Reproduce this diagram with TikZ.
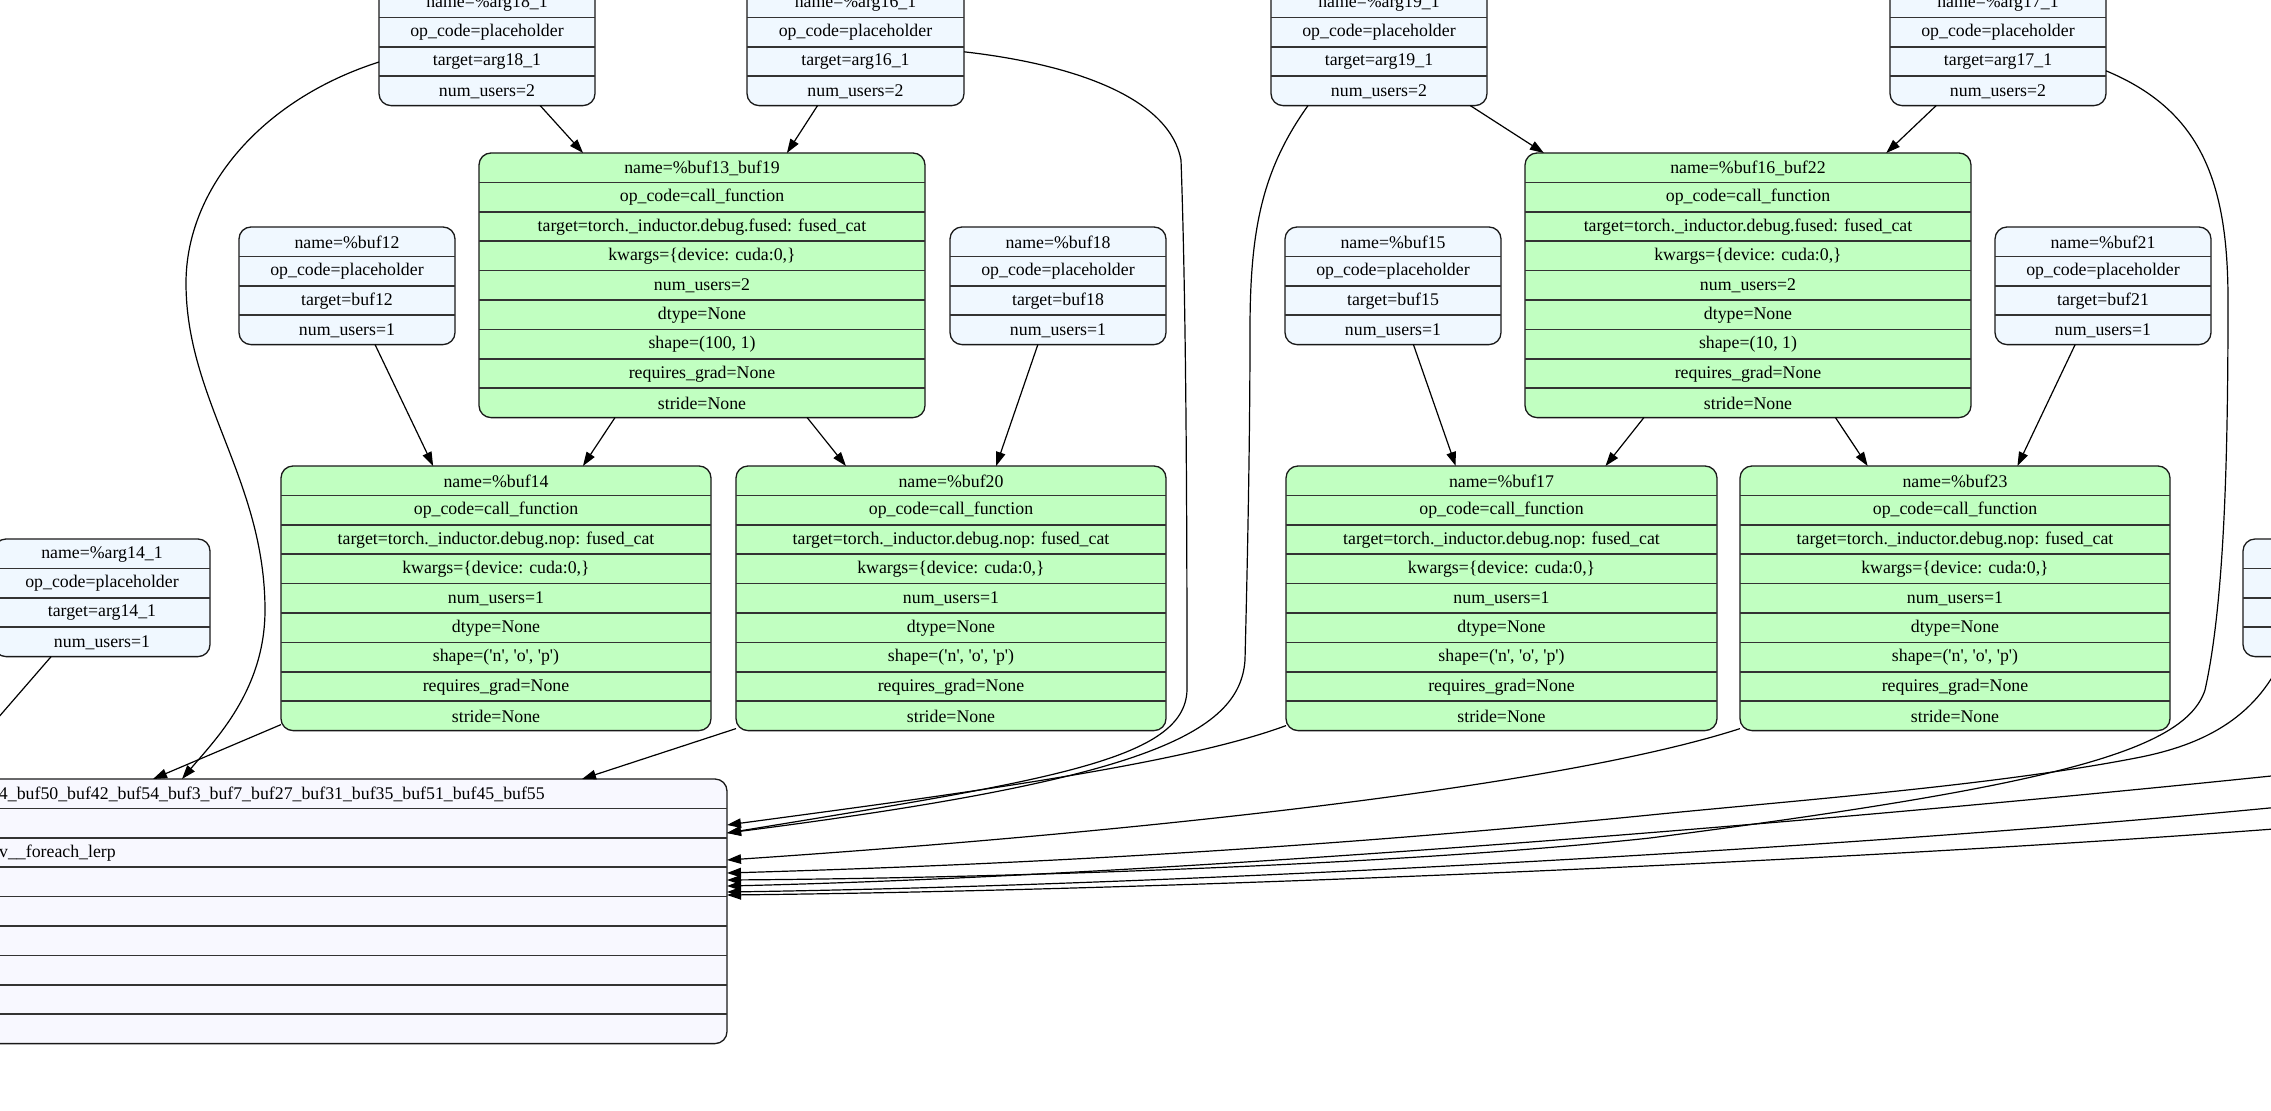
\documentclass[tikz,border=0pt]{standalone}
\usepackage{fontspec}
\setmainfont{Liberation Serif}
\usetikzlibrary{calc,arrows.meta}
\definecolor{phfill}{HTML}{F0F8FF}
\definecolor{fnfill}{HTML}{C1FFC1}
\definecolor{bgfill}{HTML}{F8F8FF}
\newcommand\sq{\textquotesingle}
\newcommand\mkrec[6]{%
  \node[#2, minimum width=#5pt, minimum height=#6*29.4pt, anchor=north west] (#1) at (#3,#4) {};
  \foreach \k in {1,...,#6} {
    \coordinate (#1-\k) at ($(#1.north west)+(#5/2,\k*29.4-14.2)$);
  }
  \foreach \k in {2,...,#6} {
    \draw[rowline] ($(#1.north west)+(0,\k*29.4-29.4)$) -- ++(#5,0);
  }
}
\newcommand\mkrows[2]{%
  \foreach \rowtxt [count=\k] in {#2} {
    \node[rowtext] (#1-t\k) at (#1-\k) {\rowtxt};
  }
}
\tikzset{
  rec/.style={draw=black!90, line width=1.3pt, rounded corners=12pt, inner sep=0pt, outer sep=0pt},
  ph/.style={rec, fill=phfill},
  fn/.style={rec, fill=fnfill},
  bg/.style={rec, fill=bgfill},
  rowtext/.style={inner sep=0pt, font=\fontsize{17.8}{20}\selectfont},
  rowline/.style={draw=black!80, line width=1.6pt},
  edge/.style={draw=black, line width=1.2pt, -{Triangle[length=14pt, width=9.5pt]}},
}
\begin{document}
\begin{tikzpicture}[x=1pt, y=-1pt]
\useasboundingbox (0,0) rectangle (2271,1111);
\fill[white] (0,0) rectangle (2271,1111);
\clip (0,0) rectangle (2271,1111);

% top placeholders
\mkrec{arg18}{ph}{379}{-12}{216}{4}
\mkrows{arg18}{name=\%arg18\_1, op\_code=placeholder, target=arg18\_1, num\_users=2}
\mkrec{arg16}{ph}{747}{-12}{217}{4}
\mkrows{arg16}{name=\%arg16\_1, op\_code=placeholder, target=arg16\_1, num\_users=2}
\mkrec{arg19}{ph}{1271}{-12}{216}{4}
\mkrows{arg19}{name=\%arg19\_1, op\_code=placeholder, target=arg19\_1, num\_users=2}
\mkrec{arg17}{ph}{1890}{-12}{216}{4}
\mkrows{arg17}{name=\%arg17\_1, op\_code=placeholder, target=arg17\_1, num\_users=2}

% fused nodes
\mkrec{b1319}{fn}{479}{153}{446}{9}
\mkrows{b1319}{name=\%buf13\_buf19, op\_code=call\_function, target=torch.\_inductor.debug.fused: fused\_cat, {kwargs=\{device: cuda:0,\}}, num\_users=2, dtype=None, {shape=(100, 1)}, requires\_grad=None, stride=None}
\mkrec{b1622}{fn}{1525}{153}{446}{9}
\mkrows{b1622}{name=\%buf16\_buf22, op\_code=call\_function, target=torch.\_inductor.debug.fused: fused\_cat, {kwargs=\{device: cuda:0,\}}, num\_users=2, dtype=None, {shape=(10, 1)}, requires\_grad=None, stride=None}

% buf placeholders
\mkrec{buf12}{ph}{239}{227}{216}{4}
\mkrows{buf12}{name=\%buf12, op\_code=placeholder, target=buf12, num\_users=1}
\mkrec{buf18}{ph}{950}{227}{216}{4}
\mkrows{buf18}{name=\%buf18, op\_code=placeholder, target=buf18, num\_users=1}
\mkrec{buf15}{ph}{1285}{227}{216}{4}
\mkrows{buf15}{name=\%buf15, op\_code=placeholder, target=buf15, num\_users=1}
\mkrec{buf21}{ph}{1995}{227}{216}{4}
\mkrows{buf21}{name=\%buf21, op\_code=placeholder, target=buf21, num\_users=1}

% nop nodes
\mkrec{buf14}{fn}{281}{466}{430}{9}
\mkrows{buf14}{name=\%buf14, op\_code=call\_function, target=torch.\_inductor.debug.nop: fused\_cat, {kwargs=\{device: cuda:0,\}}, num\_users=1, dtype=None, {shape=(\sq n\sq, \sq o\sq, \sq p\sq)}, requires\_grad=None, stride=None}
\mkrec{buf20}{fn}{736}{466}{430}{9}
\mkrows{buf20}{name=\%buf20, op\_code=call\_function, target=torch.\_inductor.debug.nop: fused\_cat, {kwargs=\{device: cuda:0,\}}, num\_users=1, dtype=None, {shape=(\sq n\sq, \sq o\sq, \sq p\sq)}, requires\_grad=None, stride=None}
\mkrec{buf17}{fn}{1286}{466}{431}{9}
\mkrows{buf17}{name=\%buf17, op\_code=call\_function, target=torch.\_inductor.debug.nop: fused\_cat, {kwargs=\{device: cuda:0,\}}, num\_users=1, dtype=None, {shape=(\sq n\sq, \sq o\sq, \sq p\sq)}, requires\_grad=None, stride=None}
\mkrec{buf23}{fn}{1740}{466}{430}{9}
\mkrows{buf23}{name=\%buf23, op\_code=call\_function, target=torch.\_inductor.debug.nop: fused\_cat, {kwargs=\{device: cuda:0,\}}, num\_users=1, dtype=None, {shape=(\sq n\sq, \sq o\sq, \sq p\sq)}, requires\_grad=None, stride=None}

% side placeholders
\mkrec{arg14}{ph}{-6}{539}{216}{4}
\mkrows{arg14}{name=\%arg14\_1, op\_code=placeholder, target=arg14\_1, num\_users=1}
\mkrec{farR}{ph}{2243}{539}{216}{4}

% big bottom node
\mkrec{big}{bg}{-700}{779}{1427}{9}
\node[rowtext, anchor=east] (bigt1) at ($(big-1 -| big.east)+(-182,0)$) {4\_buf50\_buf42\_buf54\_buf3\_buf7\_buf27\_buf31\_buf35\_buf51\_buf45\_buf55};
\node[rowtext, anchor=east] (bigt3) at ($(big-3 -| big.east)+(-611,0)$) {v\_\_foreach\_lerp};

% straight edges
\draw[edge] (arg18) -- (b1319);
\draw[edge] (arg16) -- (b1319);
\draw[edge] (arg19) -- (b1622);
\draw[edge] (arg17) -- (b1622);
\draw[edge] (buf12) -- (buf14);
\draw[edge] (b1319) -- (buf14);
\draw[edge] (b1319) -- (buf20);
\draw[edge] (buf18) -- (buf20);
\draw[edge] (buf15) -- (buf17);
\draw[edge] (b1622) -- (buf17);
\draw[edge] (b1622) -- (buf23);
\draw[edge] (buf21) -- (buf23);

% edges into the big node
\draw[edge] ($(buf14.south west)+(0,-6)$) -- ($(big.north east)+(-574,0)$);
\draw[edge] ($(buf20.south west)+(0,-2)$) -- ($(big.north east)+(-145,0)$);
\draw[edge] (arg18-3 -| arg18.west) .. controls (260,100) and (186,190) .. (186,283)
  .. controls (186,400) and (265,480) .. (265,610)
  .. controls (265,690) and (215,740) .. ($(big.north east)+(-545,0)$);
\coordinate (offL) at (-55,779);
\draw[edge] (arg14) -- (offL);
\draw[edge] ($(arg16.east)+(0,5)$) .. controls (1080,65) and (1170,100) .. (1181,160)
  .. controls (1186,300) and (1187,500) .. (1187,690)
  .. controls (1185,760) and (1050,780) .. ($(big.north east)+(0,54)$);
\draw[edge] ($(arg19.south west)+(37,0)$) .. controls (1262,170) and (1250,230) .. (1250,330)
  .. controls (1250,450) and (1247,580) .. (1245,660)
  .. controls (1240,735) and (1140,780) .. ($(big.north east)+(0,54)$);
\draw[edge] ($(buf17.south west)+(0,-5)$) .. controls (1180,765) and (950,795) .. ($(big.north east)+(0,46)$);
\draw[edge] ($(buf23.south west)+(0,-2)$) .. controls (1550,790) and (1100,835) .. ($(big.north east)+(0,81)$);
\draw[edge] ($(arg17.east)+(0,24)$) .. controls (2200,110) and (2228,180) .. (2228,300)
  .. controls (2228,450) and (2225,600) .. (2205,690)
  .. controls (2185,750) and (2060,785) .. (1650,838)
  .. controls (1400,865) and (1000,878) .. ($(big.north east)+(0,101)$);
\draw[edge] ($(farR.south west)+(40,0)$) .. controls (2255,720) and (2200,745) .. (2141,757)
  .. controls (2000,785) and (1800,800) .. (1650,815)
  .. controls (1300,850) and (1000,865) .. ($(big.north east)+(0,94)$);
\coordinate (r1) at (2300,773);
\coordinate (r2) at (2300,805);
\coordinate (r3) at (2300,827);
\draw[edge] (r1) .. controls (1900,815) and (1200,875) .. ($(big.north east)+(0,107)$);
\draw[edge] (r2) .. controls (1900,845) and (1200,885) .. ($(big.north east)+(0,113)$);
\draw[edge] (r3) .. controls (1900,858) and (1200,890) .. ($(big.north east)+(0,116)$);
\end{tikzpicture}
\end{document}
